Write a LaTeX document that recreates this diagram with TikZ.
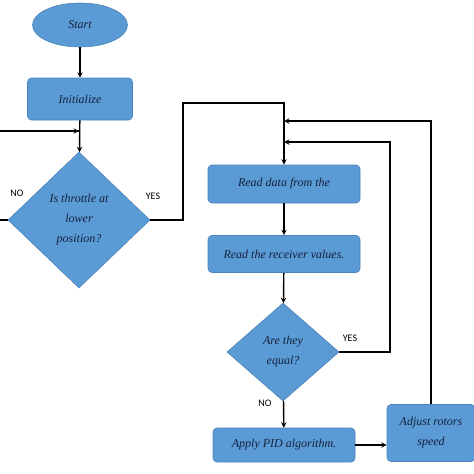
\documentclass[tikz,border=0pt]{standalone}
\usepackage{fontspec}
\setmainfont{Liberation Serif}
\newfontfamily\labelfont{Carlito}
\usetikzlibrary{arrows, positioning, shapes.geometric}

\definecolor{boxblue}{HTML}{5B9BD5}
\definecolor{boxedge}{HTML}{4A82B8}
\definecolor{inktext}{HTML}{14213D}

\begin{document}
\begin{tikzpicture}[
    x=1pt, y=-1pt,
    ->,
    >=stealth,
    line width=1.4pt,
    block/.style={rectangle, rounded corners=4pt, fill=boxblue, draw=boxedge,
        line width=0.6pt, text=inktext, align=center,
        font=\fontsize{12}{20}\selectfont\itshape},
    decision/.style={diamond, fill=boxblue, draw=boxedge, line width=0.6pt,
        text=inktext, align=center, inner sep=0pt,
        font=\fontsize{12}{20}\selectfont\itshape},
    answer/.style={font=\labelfont\fontsize{10}{12}\selectfont, text=black},
]
    \useasboundingbox (0,0) rectangle (474,474);

    \node[ellipse, fill=boxblue, draw=boxedge, line width=0.6pt, text=inktext,
        font=\fontsize{12}{14}\selectfont\itshape,
        minimum width=95, minimum height=44] (start) at (80,25) {Start};
    \node[block, minimum width=105, minimum height=42] (init) at (80,99) {Initialize};
    \node[decision, minimum width=142, minimum height=136, aspect=1.04]
        (throttle) at (79,220) {Is throttle at\\lower\\position?};

    \node[block, minimum width=152, minimum height=38] (read) at (284,184) {Read data from the};
    \node[block, minimum width=152, minimum height=37] (recv) at (284,254) {Read the receiver values.};
    \node[decision, minimum width=112, minimum height=98, aspect=1.14]
        (equal) at (283,352) {Are they\\equal?};
    \node[block, minimum width=142, minimum height=34] (pid) at (284,445) {Apply PID algorithm.};
    \node[block, minimum width=88, minimum height=57] (adjust) at (431,433) {Adjust rotors\\speed};

    % joins on the vertical lines
    \coordinate (backin) at (80,131);
    \coordinate (yesin) at (284,103);
    \coordinate (loopa) at (284,121);
    \coordinate (loopb) at (284,142);

    \draw (start) -- (init);
    \draw (init) -- (throttle);
    \draw[-] (throttle.west) -- (-10,220) |- (backin);
    \draw[<-, shorten <=1pt] (backin) -- (-10,131);
    \draw (throttle.east) -- (183,220) |- (yesin) -- (read.north);
    \draw (read) -- (recv);
    \draw (recv) -- (equal);
    \draw (equal) -- (pid);
    \draw (pid.east) -- (pid.east -| adjust.west);
    \draw (equal.east) -- (390,352) |- (loopb);
    \draw (adjust.north) |- (loopa);

    \node[answer] at (17,193) {NO};
    \node[answer] at (153,196) {YES};
    \node[answer] at (350,338) {YES};
    \node[answer] at (265,403) {NO};
\end{tikzpicture}
\end{document}
